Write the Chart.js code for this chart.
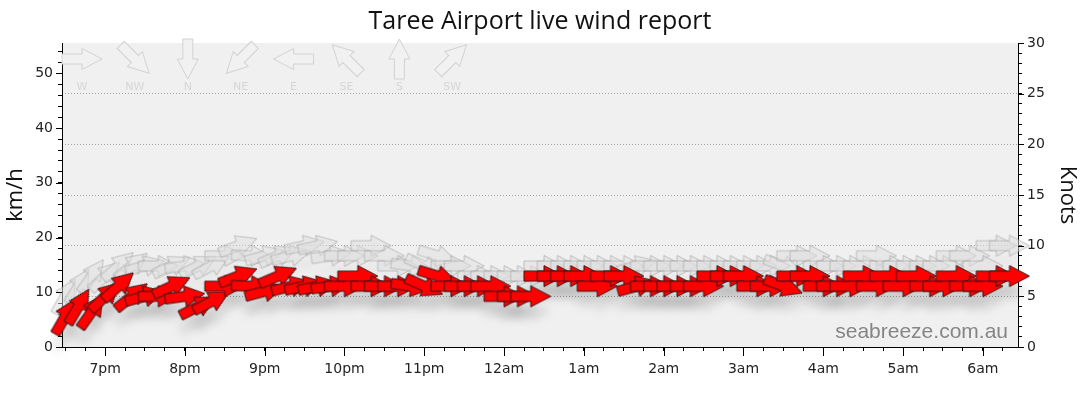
<!DOCTYPE html>
<html>
<head>
<meta charset="utf-8">
<script src="https://cdn.jsdelivr.net/npm/chart.js@4.4.1/dist/chart.umd.min.js"></script>
<style>
  html, body { margin: 0; padding: 0; background: #fff; }
</style>
</head>
<body>
<canvas id="windChart" width="1080" height="414"></canvas>
<script>
// observation times (local), 10 minute readings
const obsTimes = [
  "18:30", "18:40", "18:50", "19:00", "19:10", "19:20", "19:30", "19:40", "19:50",
  "20:00", "20:10", "20:20", "20:30", "20:40", "20:50", "21:00", "21:10", "21:20",
  "21:30", "21:40", "21:50", "22:00", "22:10", "22:20", "22:30", "22:40", "22:50",
  "23:00", "23:10", "23:20", "23:30", "23:40", "23:50", "00:00", "00:10", "00:20",
  "00:30", "00:40", "00:50", "01:00", "01:10", "01:20", "01:30", "01:40", "01:50",
  "02:00", "02:10", "02:20", "02:30", "02:40", "02:50", "03:00", "03:10", "03:20",
  "03:30", "03:40", "03:50", "04:00", "04:10", "04:20", "04:30", "04:40", "04:50",
  "05:00", "05:10", "05:20", "05:30", "05:40", "05:50", "06:00", "06:10", "06:20",
];
// average wind, knots
const windKnots = [
  3, 4, 3.5, 5, 6, 5, 5, 5, 6,
  5, 4, 4.5, 6, 7, 6, 5.5, 7, 6,
  6, 6, 6, 6, 7, 6, 6, 6, 6,
  6, 7, 6, 6, 6, 6, 5, 5, 5,
  7, 7, 7, 7, 6, 7, 7, 6, 6,
  6, 6, 6, 6, 7, 7, 7, 6, 6,
  6, 7, 7, 6, 6, 6, 7, 6, 7,
  6, 7, 6, 6, 7, 6, 6, 7, 7,
];
// gusts, knots
const gustKnots = [
  5, 6, 7, 7, 8, 8, 8, 8, 8,
  8, 8, 8, 9, 10, 9, 9, 9, 9,
  10, 10, 9, 9, 9, 10, 9, 8, 8,
  8, 9, 8, 8, 7, 7, 7, 7, 7,
  8, 8, 8, 8, 8, 8, 8, 8, 8,
  8, 8, 8, 8, 8, 8, 8, 8, 8,
  8, 9, 9, 8, 8, 8, 8, 9, 8,
  8, 8, 8, 8, 9, 9, 8, 10, 10,
];
// direction the wind comes from, degrees
const windDir = [
  210, 211, 215, 226, 228, 231, 255, 270, 245,
  262, 243, 242, 270, 249, 272, 255, 247, 256,
  258, 258, 262, 270, 270, 270, 270, 270, 278,
  294, 287, 270, 270, 270, 270, 270, 270, 270,
  270, 270, 270, 270, 270, 270, 270, 255, 270,
  270, 270, 270, 270, 270, 270, 270, 270, 270,
  290, 270, 270, 270, 270, 270, 270, 270, 270,
  270, 270, 270, 270, 270, 270, 270, 270, 270,
];
const hourLabels = ["7pm", "8pm", "9pm", "10pm", "11pm", "12am", "1am", "2am", "3am", "4am", "5am", "6am"];
const compassLabels = ["W", "NW", "N", "NE", "E", "SE", "S", "SW"];
const compassDir = [270, 315, 0, 45, 90, 135, 180, 225];

const KMH_PER_KNOT = 1.852;
const MAX_KNOTS = 30;

// hours after 18:00
const toHours = (t) => {
  const [h, m] = t.split(":").map(Number);
  let v = h + m / 60;
  if (v < 12) v += 24;
  return v - 18;
};
// arrow points downwind, 0deg rotation = wind from the west
const toRotation = (dir) => (dir - 270 + 360) % 360;

function arrowImage(fill, stroke) {
  const c = document.createElement("canvas");
  c.width = 48;
  c.height = 48;
  const g = c.getContext("2d");
  g.translate(24, 24);
  drawArrowPath(g);
  g.fillStyle = fill;
  g.fill();
  g.lineWidth = 1;
  g.strokeStyle = stroke;
  g.stroke();
  return c;
}
function drawArrowPath(g) {
  g.beginPath();
  g.moveTo(-20, -5);
  g.lineTo(0, -5);
  g.lineTo(0, -10.5);
  g.lineTo(20, 0);
  g.lineTo(0, 10.5);
  g.lineTo(0, 5);
  g.lineTo(-20, 5);
  g.closePath();
}

const windArrow = arrowImage("#ff0000", "#3a1414");
const gustArrow = arrowImage("rgba(222,222,222,0.5)", "rgba(160,160,160,0.6)");

const windPoints = obsTimes.map((t, i) => ({ x: toHours(t), y: windKnots[i] }));
const gustPoints = obsTimes.map((t, i) => ({ x: toHours(t), y: gustKnots[i] }));
const rotations = windDir.map(toRotation);

const plotBackground = {
  id: "plotBackground",
  beforeDraw(chart) {
    const { ctx, chartArea: a } = chart;
    ctx.save();
    ctx.fillStyle = "#f0f0f0";
    ctx.fillRect(a.left, a.top, a.right - a.left, a.bottom - a.top);
    ctx.restore();
  },
};

// soft drop shadow under arrows: draw the points far off-canvas, keep only the shadow
const arrowShadow = {
  id: "arrowShadow",
  beforeDatasetDraw(chart, args) {
    const ds = chart.data.datasets[args.index];
    if (!ds.shadowColor) return;
    const ctx = chart.ctx;
    const dpr = chart.currentDevicePixelRatio || 1;
    const shift = 3000;
    ctx.save();
    ctx.translate(0, -shift);
    ctx.shadowColor = ds.shadowColor;
    ctx.shadowBlur = ds.shadowBlur * dpr;
    ctx.shadowOffsetX = 0;
    ctx.shadowOffsetY = (shift + ds.shadowDrop) * dpr;
    args.meta.data.forEach((pt) => pt.draw(ctx));
    ctx.restore();
  },
};

const compassKey = {
  id: "compassKey",
  beforeDatasetsDraw(chart) {
    const { ctx, chartArea: a } = chart;
    ctx.save();
    ctx.font = "11px 'DejaVu Sans', Verdana, sans-serif";
    ctx.textAlign = "center";
    ctx.textBaseline = "middle";
    compassLabels.forEach((lab, i) => {
      const cx = a.left + 20 + i * 52.9;
      const cy = a.top + 16;
      ctx.save();
      ctx.translate(cx, cy);
      ctx.rotate((toRotation(compassDir[i]) * Math.PI) / 180);
      drawArrowPath(ctx);
      ctx.fillStyle = "#f1f1f1";
      ctx.fill();
      ctx.strokeStyle = "#d2d2d2";
      ctx.lineWidth = 1;
      ctx.stroke();
      ctx.restore();
      ctx.fillStyle = "#d6d6d6";
      ctx.fillText(lab, cx, a.top + 44);
    });
    ctx.restore();
  },
};

const majorTicks = {
  id: "majorTicks",
  afterDraw(chart) {
    const { ctx } = chart;
    const { x, yKmh, yKt } = chart.scales;
    const al = (v) => Math.round(v) + 0.5;
    ctx.save();
    ctx.strokeStyle = "#000";
    ctx.lineWidth = 1;
    ctx.beginPath();
    hourLabels.forEach((_, i) => {
      const px = al(x.getPixelForValue(i + 1));
      ctx.moveTo(px, x.top);
      ctx.lineTo(px, x.top + 9);
    });
    for (let v = 0; v <= 50; v += 10) {
      const py = al(yKmh.getPixelForValue(v));
      ctx.moveTo(yKmh.right, py);
      ctx.lineTo(yKmh.right - 6, py);
    }
    for (let v = 0; v <= 30; v += 5) {
      const py = al(yKt.getPixelForValue(v));
      ctx.moveTo(yKt.left, py);
      ctx.lineTo(yKt.left + 6, py);
    }
    ctx.stroke();
    ctx.restore();
  },
};

const watermark = {
  id: "watermark",
  afterDatasetsDraw(chart) {
    const { ctx, chartArea: a } = chart;
    ctx.save();
    ctx.font = "21px 'Liberation Sans', Arial, sans-serif";
    ctx.fillStyle = "#858585";
    ctx.textAlign = "right";
    ctx.textBaseline = "alphabetic";
    ctx.fillText("seabreeze.com.au", a.right - 10, a.bottom - 9);
    ctx.restore();
  },
};

const tickFont = { family: "'DejaVu Sans', Verdana, sans-serif", size: 14 };

new Chart(document.getElementById("windChart"), {
  type: "scatter",
  data: {
    datasets: [
      {
        label: "Wind",
        data: windPoints,
        yAxisID: "yKt",
        pointStyle: windArrow,
        pointRadius: 20,
        pointRotation: rotations,
        clip: false,
        shadowColor: "rgba(0,0,0,0.085)",
        shadowBlur: 8,
        shadowDrop: 15,
      },
      {
        label: "Gust",
        data: gustPoints,
        yAxisID: "yKt",
        pointStyle: gustArrow,
        pointRadius: 20,
        pointRotation: rotations,
        clip: false,
        shadowColor: "rgba(0,0,0,0.025)",
        shadowBlur: 6,
        shadowDrop: 15,
      },
    ],
  },
  options: {
    responsive: false,
    animation: false,
    events: [],
    layout: { padding: 0 },
    plugins: {
      legend: { display: false },
      tooltip: { enabled: false },
      title: {
        display: true,
        text: "Taree Airport live wind report",
        color: "#111",
        font: { family: "'Open Sans', sans-serif", size: 25, weight: "normal", lineHeight: 1.2 },
        padding: { top: 7, bottom: 6 },
      },
    },
    scales: {
      x: {
        type: "linear",
        position: "bottom",
        min: 0.46,
        max: 12.44,
        afterFit: (s) => { s.height = 67; },
        grid: { drawOnChartArea: false, tickLength: 4, tickColor: "#000" },
        border: { color: "#000" },
        ticks: {
          stepSize: 0.25,
          includeBounds: false,
          autoSkip: false,
          maxRotation: 0,
          padding: 10,
          color: "#222",
          font: tickFont,
          callback: (v) => (Number.isInteger(v) && v >= 1 && v <= 12 ? hourLabels[v - 1] : ""),
        },
      },
      yKmh: {
        type: "linear",
        position: "left",
        min: 0,
        max: MAX_KNOTS * KMH_PER_KNOT,
        afterFit: (s) => { s.width = 62; },
        grid: { drawOnChartArea: false, tickLength: 4, tickColor: "#000" },
        border: { color: "#000" },
        ticks: {
          stepSize: 2,
          includeBounds: false,
          autoSkip: false,
          padding: 5,
          color: "#222",
          font: tickFont,
          callback: (v) => (v % 10 === 0 ? v : ""),
        },
        title: {
          display: true,
          text: "km/h",
          color: "#111",
          font: { family: "'Open Sans', sans-serif", size: 22 },
          padding: { top: 3, bottom: 0 },
        },
      },
      yKt: {
        type: "linear",
        position: "right",
        min: 0,
        max: MAX_KNOTS,
        afterFit: (s) => { s.width = 62; },
        grid: {
          drawOnChartArea: true,
          tickLength: 4,
          tickColor: "#000",
          color: (c) => (c.tick.value % 5 === 0 && c.tick.value > 0 && c.tick.value < 30 ? "#a5a5a5" : "rgba(0,0,0,0)"),
        },
        border: { color: "#000", dash: [1, 2] },
        ticks: {
          stepSize: 1,
          autoSkip: false,
          padding: 5,
          color: "#222",
          font: tickFont,
          callback: (v) => (v % 5 === 0 ? v : ""),
        },
        title: {
          display: true,
          text: "Knots",
          color: "#111",
          font: { family: "'Open Sans', sans-serif", size: 22 },
          padding: { top: 0, bottom: 0 },
        },
      },
    },
  },
  plugins: [plotBackground, arrowShadow, compassKey, majorTicks, watermark],
});
</script>
</body>
</html>
